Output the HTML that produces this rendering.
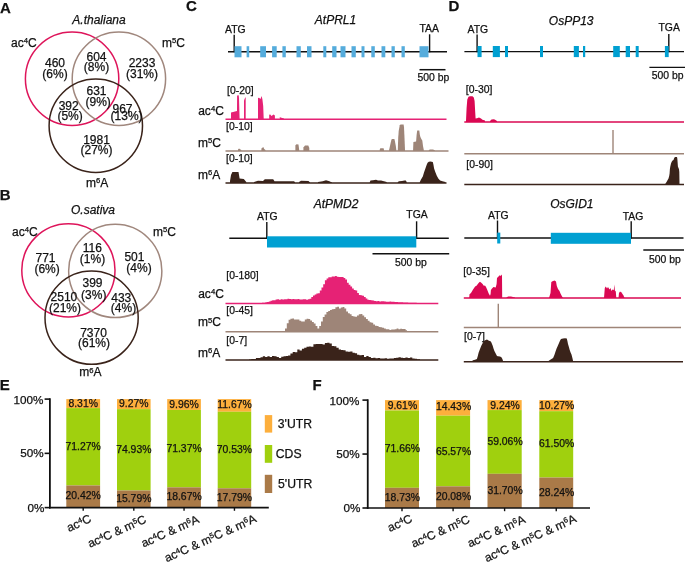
<!DOCTYPE html>
<html lang="en">
<head>
<meta charset="utf-8">
<title>Figure</title>
<style>
html,body{margin:0;padding:0;background:#fff;}
body{width:685px;height:562px;overflow:hidden;}
svg{display:block;}
text{font-family:"Liberation Sans",Arial,Helvetica,sans-serif;fill:#111;stroke:#111;stroke-width:0.25px;}
.b{font-weight:bold;}
.i{font-style:italic;}
</style>
</head>
<body>
<svg width="685" height="562" viewBox="0 0 685 562">
<rect x="0" y="0" width="685" height="562" fill="#fff"/>
<text x="0" y="12.8" font-size="15" text-anchor="start" class="b">A</text>
<text x="-0.2" y="199.8" font-size="15" text-anchor="start" class="b">B</text>
<text x="186" y="11.2" font-size="15" text-anchor="start" class="b">C</text>
<text x="448.5" y="11.1" font-size="15" text-anchor="start" class="b">D</text>
<text x="-0.2" y="389.9" font-size="15" text-anchor="start" class="b">E</text>
<text x="312.6" y="390" font-size="15" text-anchor="start" class="b">F</text>
<circle cx="72.1" cy="78.75" r="46.7" fill="none" stroke="#DE145A" stroke-width="1.5"/>
<circle cx="118.9" cy="78.8" r="46.7" fill="none" stroke="#A0877D" stroke-width="1.5"/>
<circle cx="95.8" cy="125.8" r="46.7" fill="none" stroke="#3A231A" stroke-width="1.5"/>
<text x="99" y="24.3" font-size="12" text-anchor="middle" class="i">A.thaliana</text>
<text x="11" y="47" font-size="12" text-anchor="start">ac<tspan dy="-3.6" font-size="7.68">4</tspan><tspan dy="3.6">C</tspan></text>
<text x="162" y="47" font-size="12" text-anchor="start">m<tspan dy="-3.6" font-size="7.68">5</tspan><tspan dy="3.6">C</tspan></text>
<text x="86" y="186.8" font-size="12" text-anchor="start">m<tspan dy="-3.6" font-size="7.68">6</tspan><tspan dy="3.6">A</tspan></text>
<text x="55" y="67" font-size="12" text-anchor="middle">460</text>
<text x="55" y="78" font-size="12" text-anchor="middle">(6%)</text>
<text x="96.5" y="60.5" font-size="12" text-anchor="middle">604</text>
<text x="96.5" y="71" font-size="12" text-anchor="middle">(8%)</text>
<text x="142" y="67" font-size="12" text-anchor="middle">2233</text>
<text x="142" y="78" font-size="12" text-anchor="middle">(31%)</text>
<text x="96.5" y="95" font-size="12" text-anchor="middle">631</text>
<text x="98.2" y="105.5" font-size="12" text-anchor="middle">(9%)</text>
<text x="68.7" y="110.2" font-size="12" text-anchor="middle">392</text>
<text x="70.1" y="120.2" font-size="12" text-anchor="middle">(5%)</text>
<text x="122.5" y="113" font-size="12" text-anchor="middle">967</text>
<text x="126.6" y="120.2" font-size="12" text-anchor="middle">(13%)</text>
<text x="96.5" y="143.7" font-size="12" text-anchor="middle">1981</text>
<text x="96.5" y="154.2" font-size="12" text-anchor="middle">(27%)</text>
<circle cx="68.4" cy="270.3" r="46.6" fill="none" stroke="#DE145A" stroke-width="1.5"/>
<circle cx="115.25" cy="270.9" r="46.6" fill="none" stroke="#A0877D" stroke-width="1.5"/>
<circle cx="91.6" cy="317.7" r="46.6" fill="none" stroke="#3A231A" stroke-width="1.5"/>
<text x="93" y="213.8" font-size="12" text-anchor="middle" class="i">O.sativa</text>
<text x="12" y="235.5" font-size="12" text-anchor="start">ac<tspan dy="-3.6" font-size="7.68">4</tspan><tspan dy="3.6">C</tspan></text>
<text x="153" y="235.5" font-size="12" text-anchor="start">m<tspan dy="-3.6" font-size="7.68">5</tspan><tspan dy="3.6">C</tspan></text>
<text x="79.3" y="376.3" font-size="12" text-anchor="start">m<tspan dy="-3.6" font-size="7.68">6</tspan><tspan dy="3.6">A</tspan></text>
<text x="45.5" y="261.8" font-size="12" text-anchor="middle">771</text>
<text x="47.1" y="272.8" font-size="12" text-anchor="middle">(6%)</text>
<text x="92.25" y="251.5" font-size="12" text-anchor="middle">116</text>
<text x="92.5" y="262.7" font-size="12" text-anchor="middle">(1%)</text>
<text x="134.4" y="260.7" font-size="12" text-anchor="middle">501</text>
<text x="139" y="271.6" font-size="12" text-anchor="middle">(4%)</text>
<text x="92.5" y="286.5" font-size="12" text-anchor="middle">399</text>
<text x="93.75" y="298.7" font-size="12" text-anchor="middle">(3%)</text>
<text x="63.9" y="301" font-size="12" text-anchor="middle">2510</text>
<text x="65" y="311.5" font-size="12" text-anchor="middle">(21%)</text>
<text x="121.25" y="301.5" font-size="12" text-anchor="middle">433</text>
<text x="123.5" y="311.5" font-size="12" text-anchor="middle">(4%)</text>
<text x="93.5" y="336.5" font-size="12" text-anchor="middle">7370</text>
<text x="94" y="347.3" font-size="12" text-anchor="middle">(61%)</text>
<text x="335.5" y="24.3" font-size="12" text-anchor="middle" class="i">AtPRL1</text>
<line x1="228" y1="51.7" x2="447" y2="51.7" stroke="#111" stroke-width="1.4"/>
<line x1="234.2" y1="34.8" x2="234.2" y2="52.3" stroke="#111" stroke-width="1.4"/>
<line x1="429.6" y1="34.3" x2="429.6" y2="52.3" stroke="#111" stroke-width="1.4"/>
<text x="225" y="33" font-size="10.4" text-anchor="start">ATG</text>
<text x="419.5" y="31.5" font-size="10.4" text-anchor="start">TAA</text>
<rect x="234.5" y="46.2" width="7" height="11.1" fill="#55ACDC"/>
<rect x="246.6" y="46.2" width="2.6" height="11.1" fill="#55ACDC"/>
<rect x="260.2" y="46.2" width="5.8" height="11.1" fill="#55ACDC"/>
<rect x="272.1" y="46.2" width="4.6" height="11.1" fill="#55ACDC"/>
<rect x="282.4" y="46.2" width="3.4" height="11.1" fill="#55ACDC"/>
<rect x="296.5" y="46.2" width="4.3" height="11.1" fill="#55ACDC"/>
<rect x="307" y="46.2" width="4.5" height="11.1" fill="#55ACDC"/>
<rect x="323.3" y="46.2" width="3" height="11.1" fill="#55ACDC"/>
<rect x="332.2" y="46.2" width="4.3" height="11.1" fill="#55ACDC"/>
<rect x="340.5" y="46.2" width="5" height="11.1" fill="#55ACDC"/>
<rect x="351.5" y="46.2" width="4.3" height="11.1" fill="#55ACDC"/>
<rect x="361.5" y="46.2" width="3" height="11.1" fill="#55ACDC"/>
<rect x="371.3" y="46.2" width="3.5" height="11.1" fill="#55ACDC"/>
<rect x="381.5" y="46.2" width="3.8" height="11.1" fill="#55ACDC"/>
<rect x="391.5" y="46.2" width="3.3" height="11.1" fill="#55ACDC"/>
<rect x="401.5" y="46.2" width="3.3" height="11.1" fill="#55ACDC"/>
<rect x="419.5" y="46.2" width="9" height="11.1" fill="#55ACDC"/>
<line x1="419.5" y1="69.7" x2="445.5" y2="69.7" stroke="#111" stroke-width="1.5"/>
<text x="417.5" y="81.3" font-size="10.4" text-anchor="start">500 bp</text>
<text x="227" y="94" font-size="10.4" text-anchor="start">[0-20]</text>
<text x="226" y="130.3" font-size="10.4" text-anchor="start">[0-10]</text>
<text x="226" y="162" font-size="10.4" text-anchor="start">[0-10]</text>
<text x="198.2" y="115" font-size="12" text-anchor="start">ac<tspan dy="-3.6" font-size="7.68">4</tspan><tspan dy="3.6">C</tspan></text>
<text x="198" y="146.7" font-size="12" text-anchor="start">m<tspan dy="-3.6" font-size="7.68">5</tspan><tspan dy="3.6">C</tspan></text>
<text x="198" y="179" font-size="12" text-anchor="start">m<tspan dy="-3.6" font-size="7.68">6</tspan><tspan dy="3.6">A</tspan></text>
<line x1="225.5" y1="119.2" x2="446.5" y2="119.2" stroke="#E62275" stroke-width="1.5"/>
<path d="M231 119.2L231 112.5L237 110.9L237.1 95.5L238.7 95.3L239 98L239.6 119L239.6 119.2Z" fill="#E62275"/>
<path d="M244 119.2L244 100.5L245.2 97.4L245.7 97.6L245.7 119.2Z" fill="#E62275"/>
<path d="M258 119.2L258 98L259 97.7L260.5 99L261.6 96.1L262.4 99.3L263.2 106L263.7 119L263.7 119.2Z" fill="#E62275"/>
<path d="M269.2 119.2L269.2 115L270 114.3L271.5 116L273.5 114.5L274.9 115.5L274.9 119.2Z" fill="#E62275"/>
<path d="M279.8 119.2L279.8 117L280.6 117.6L284 118.5L284 119.2Z" fill="#E62275"/>
<line x1="225.5" y1="151.1" x2="448.5" y2="151.1" stroke="#9E8578" stroke-width="1.5"/>
<path d="M238 151.1L238 149.5L239 148.5L241.3 150L241.3 151.1Z" fill="#9E8578"/>
<path d="M261.4 151.1L261.4 148.5L263.3 146.9L264.2 149L265.5 150L265.5 151.1Z" fill="#9E8578"/>
<path d="M295.4 151.1L295.4 145.2L296.5 144.3L298.5 144.5L299.2 150L299.2 151.1Z" fill="#9E8578"/>
<path d="M303.4 151.1L303.4 147.5L305 145.6L308.3 145.4L309.3 148L309.3 151.1Z" fill="#9E8578"/>
<path d="M379.8 151.1L379.8 149.5L380.3 148.2L383.6 148.2L384 150L384 151.1Z" fill="#9E8578"/>
<path d="M389.1 151.1L389.1 150L390.2 145L391.4 139.8L392 138.9L394.4 138.9L395 141.5L395.8 146L396.3 150L396.3 151.1Z" fill="#9E8578"/>
<path d="M397.8 151.1L397.8 150L398.2 138L398.7 131L399.8 125.2L400.5 124.6L403.6 124.6L404 127L404.5 138L405 150L405 151.1Z" fill="#9E8578"/>
<path d="M413.1 151.1L413.1 150L413.4 142L416.1 141.6L416.6 135L417.2 130.5L419.3 130.5L419.8 134.5L420.4 137L421.5 139.3L422.3 140.5L423 146L423.8 150L423.8 151.1Z" fill="#9E8578"/>
<path d="M428.8 151.1L428.8 150L430 149.4L433 149.5L434.8 150.3L434.8 151.1Z" fill="#9E8578"/>
<line x1="225.5" y1="182.9" x2="446.5" y2="182.9" stroke="#3A231A" stroke-width="1.5"/>
<path d="M230 182.9L230 181L231 175L232.4 172L238.5 172L239.6 178.5L243.8 179L246.3 182L246.3 182.9Z" fill="#3A231A"/>
<path d="M254 182.9L254 182L258 180.8L263 181L264.8 179.2L273.2 179.3L274.5 181.3L284 181.2L285.8 181.3L294.2 181.2L295 182.5L295 182.9Z" fill="#3A231A"/>
<path d="M299 182.9L299 182L301 180.8L308.5 181L310 182.5L310 182.9Z" fill="#3A231A"/>
<path d="M318 182.9L318 182L322.7 181.2L326 180.2L329.4 181.3L332 182.5L332 182.9Z" fill="#3A231A"/>
<path d="M369.8 182.9L369.8 182L370.5 180.6L373 180.2L376 179.7L378 180.4L381 180.6L384 181.2L386.7 182L386.7 182.9Z" fill="#3A231A"/>
<path d="M397.8 182.9L397.8 182L399 181.3L402 181L404.5 180.4L405.8 180.5L406.7 182L406.7 182.9Z" fill="#3A231A"/>
<path d="M419.8 182.9L419.8 182L421 179.5L422.8 176.4L424 172.5L425.4 168.4L426.8 164.4L427.6 162.8L428.8 161.8L430.5 161.4L432.8 161.9L433.4 164.5L434.1 168.4L435.3 172L436.8 175.7L438.3 178.5L440.1 180.4L442.5 181.2L445.4 182L445.4 182.9Z" fill="#3A231A"/>
<text x="336" y="207.5" font-size="12" text-anchor="middle" class="i">AtPMD2</text>
<line x1="229.3" y1="238.2" x2="448.8" y2="238.2" stroke="#111" stroke-width="1.4"/>
<line x1="266.8" y1="222" x2="266.8" y2="238.8" stroke="#111" stroke-width="1.4"/>
<line x1="416.6" y1="221.3" x2="416.6" y2="238.8" stroke="#111" stroke-width="1.4"/>
<rect x="267" y="236.3" width="149.3" height="11.2" fill="#00A0D2"/>
<text x="257" y="220.3" font-size="10.4" text-anchor="start">ATG</text>
<text x="406.3" y="218" font-size="10.4" text-anchor="start">TGA</text>
<line x1="372.5" y1="253.8" x2="449.2" y2="253.8" stroke="#111" stroke-width="1.4"/>
<text x="395" y="265.5" font-size="10.4" text-anchor="start">500 bp</text>
<text x="226.3" y="278.8" font-size="10.4" text-anchor="start">[0-180]</text>
<text x="226.3" y="314.3" font-size="10.4" text-anchor="start">[0-45]</text>
<text x="226.3" y="343.8" font-size="10.4" text-anchor="start">[0-7]</text>
<text x="198.2" y="297.7" font-size="12" text-anchor="start">ac<tspan dy="-3.6" font-size="7.68">4</tspan><tspan dy="3.6">C</tspan></text>
<text x="198" y="326.3" font-size="12" text-anchor="start">m<tspan dy="-3.6" font-size="7.68">5</tspan><tspan dy="3.6">C</tspan></text>
<text x="198" y="356.8" font-size="12" text-anchor="start">m<tspan dy="-3.6" font-size="7.68">6</tspan><tspan dy="3.6">A</tspan></text>
<line x1="225.5" y1="303.4" x2="438.3" y2="303.4" stroke="#E62275" stroke-width="1.5"/>
<path d="M262 303.4L262 302.85L263.7 302.85L263.7 302.64L265.4 302.64L265.4 302.36L267.1 302.36L267.1 302.09L268.8 302.09L268.8 301.58L270.5 301.58L270.5 300.79L272.2 300.79L272.2 300.27L273.9 300.27L273.9 300.35L275.6 300.35L275.6 299.6L277.3 299.6L277.3 299.31L279 299.31L279 299.7L280.7 299.7L280.7 299.32L282.4 299.32L282.4 299.47L284.1 299.47L284.1 299.19L285.8 299.19L285.8 299.22L287.5 299.22L287.5 298.86L289.2 298.86L289.2 299.08L290.9 299.08L290.9 299.27L292.6 299.27L292.6 299.12L294.3 299.12L294.3 299.3L296 299.3L296 299.31L297.7 299.31L297.7 298.99L299.4 298.99L299.4 299.47L301.1 299.47L301.1 299.45L302.8 299.45L302.8 299.36L304.5 299.36L304.5 299.29L306.2 299.29L306.2 299.66L307.9 299.66L307.9 299.17L309.6 299.17L309.6 298.68L311.3 298.68L311.3 297.08L313 297.08L313 295.56L314.7 295.56L314.7 294.55L316.4 294.55L316.4 293.52L318.1 293.52L318.1 293.2L319.8 293.2L319.8 290.49L321.5 290.49L321.5 287.56L323.2 287.56L323.2 284.13L324.9 284.13L324.9 280.26L326.6 280.26L326.6 278.57L328.3 278.57L328.3 277.28L330 277.28L330 277.16L331.7 277.16L331.7 276.42L333.4 276.42L333.4 276.41L335.1 276.41L335.1 276.08L336.8 276.08L336.8 276.64L338.5 276.64L338.5 276.93L340.2 276.93L340.2 276.91L341.9 276.91L341.9 277.05L343.6 277.05L343.6 278.02L345.3 278.02L345.3 279.54L347 279.54L347 282.81L348.7 282.81L348.7 284.81L350.4 284.81L350.4 286.51L352.1 286.51L352.1 288.57L353.8 288.57L353.8 289.93L355.5 289.93L355.5 290.47L357.2 290.47L357.2 293.05L358.9 293.05L358.9 294.9L360.6 294.9L360.6 295.15L362.3 295.15L362.3 295.81L364 295.81L364 297.03L365.7 297.03L365.7 298.38L367.4 298.38L367.4 299.87L369.1 299.87L369.1 300.09L370.8 300.09L370.8 300.29L372.5 300.29L372.5 300.39L374.2 300.39L374.2 300.99L375.9 300.99L375.9 301.21L377.6 301.21L377.6 300.96L379.3 300.96L379.3 301.43L381 301.43L381 301.34L382.7 301.34L382.7 301.31L384.4 301.31L384.4 301.44L386.1 301.44L386.1 301.69L387.8 301.69L387.8 301.79L389.5 301.79L389.5 301.58L391.2 301.58L391.2 301.84L392.9 301.84L392.9 301.76L394.6 301.76L394.6 302.05L396.3 302.05L396.3 302.03L398 302.03L398 302.26L399.7 302.26L399.7 302.37L401.4 302.37L401.4 302.35L403.1 302.35L403.1 302.54L404.8 302.54L404.8 302.49L406.5 302.49L406.5 302.51L408.2 302.51L408.2 302.65L409.9 302.65L409.9 302.63L411.6 302.63L411.6 302.71L413.3 302.71L413.3 302.79L415 302.79L415 302.87L416.7 302.87L416.7 302.89L418.4 302.89L418.4 302.93L420 302.93L420 303.4Z" fill="#E62275"/>
<line x1="225.5" y1="331.7" x2="438.3" y2="331.7" stroke="#9E8578" stroke-width="1.5"/>
<path d="M285 331.7L285 328.46L286.8 328.46L286.8 323.32L288.6 323.32L288.6 319.77L290.4 319.77L290.4 318.82L292.2 318.82L292.2 318.49L294 318.49L294 319.56L295.8 319.56L295.8 319.41L297.6 319.41L297.6 319.39L299.4 319.39L299.4 320.84L301.2 320.84L301.2 321.51L303 321.51L303 321.38L304.8 321.38L304.8 319.38L306.6 319.38L306.6 318.87L308.4 318.87L308.4 318.91L310.2 318.91L310.2 320.62L312 320.62L312 322.09L313.8 322.09L313.8 323.5L315.6 323.5L315.6 325.92L317.4 325.92L317.4 328.42L319.2 328.42L319.2 326L321 326L321 321.38L322.8 321.38L322.8 317.03L324.6 317.03L324.6 314.6L326.4 314.6L326.4 312.09L328.2 312.09L328.2 311.07L330 311.07L330 310.03L331.8 310.03L331.8 309.2L333.6 309.2L333.6 309.08L335.4 309.08L335.4 307.35L337.2 307.35L337.2 306.83L339 306.83L339 308.39L340.8 308.39L340.8 307.49L342.6 307.49L342.6 307.06L344.4 307.06L344.4 308.52L346.2 308.52L346.2 311.62L348 311.62L348 313.24L349.8 313.24L349.8 314.2L351.6 314.2L351.6 316.06L353.4 316.06L353.4 316.39L355.2 316.39L355.2 316.85L357 316.85L357 315.59L358.8 315.59L358.8 314.18L360.6 314.18L360.6 313.88L362.4 313.88L362.4 315.5L364.2 315.5L364.2 317.28L366 317.28L366 319.01L367.8 319.01L367.8 320.74L369.6 320.74L369.6 322.34L371.4 322.34L371.4 322.7L373.2 322.7L373.2 324.58L375 324.58L375 325.77L376.8 325.77L376.8 326.11L378.6 326.11L378.6 326.95L380.4 326.95L380.4 327.25L382.2 327.25L382.2 327.7L384 327.7L384 328.45L385.8 328.45L385.8 329.33L387.6 329.33L387.6 329.28L389.4 329.28L389.4 329.97L391.2 329.97L391.2 329.51L393 329.51L393 329.59L394.8 329.59L394.8 329.33L396.6 329.33L396.6 328.55L398.4 328.55L398.4 329.13L400.2 329.13L400.2 328.71L402 328.71L402 329.07L403.8 329.07L403.8 329.1L405.6 329.1L405.6 330.31L407 330.31L407 331.7Z" fill="#9E8578"/>
<line x1="225.5" y1="360.1" x2="438.3" y2="360.1" stroke="#3A231A" stroke-width="1.5"/>
<path d="M249 360.1L249 359.48L251.3 359.48L251.3 359.03L253.6 359.03L253.6 358.95L255.9 358.95L255.9 357.89L258.2 357.89L258.2 357.89L260.5 357.89L260.5 357.19L262.8 357.19L262.8 356.21L265.1 356.21L265.1 357.09L267.4 357.09L267.4 356.33L269.7 356.33L269.7 356.97L272 356.97L272 356.03L274.3 356.03L274.3 356.17L276.6 356.17L276.6 357.11L278.9 357.11L278.9 358.06L281.2 358.06L281.2 356.74L283.5 356.74L283.5 356.29L285.8 356.29L285.8 355.95L288.1 355.95L288.1 355.38L290.4 355.38L290.4 353.56L292.7 353.56L292.7 352.09L295 352.09L295 352.13L297.3 352.13L297.3 349.59L299.6 349.59L299.6 350.41L301.9 350.41L301.9 348.8L304.2 348.8L304.2 347.68L306.5 347.68L306.5 346.85L308.8 346.85L308.8 346.62L311.1 346.62L311.1 346.64L313.4 346.64L313.4 344.36L315.7 344.36L315.7 343.96L318 343.96L318 344.08L320.3 344.08L320.3 344.02L322.6 344.02L322.6 344.56L324.9 344.56L324.9 342.89L327.2 342.89L327.2 342.69L329.5 342.69L329.5 343.6L331.8 343.6L331.8 345.99L334.1 345.99L334.1 346.32L336.4 346.32L336.4 347.66L338.7 347.66L338.7 349.57L341 349.57L341 349.9L343.3 349.9L343.3 350.13L345.6 350.13L345.6 351.48L347.9 351.48L347.9 351.82L350.2 351.82L350.2 351.58L352.5 351.58L352.5 352.75L354.8 352.75L354.8 353.23L357.1 353.23L357.1 354.72L359.4 354.72L359.4 355.26L361.7 355.26L361.7 355.06L364 355.06L364 356.9L366.3 356.9L366.3 355.9L368.6 355.9L368.6 356.99L370.9 356.99L370.9 357.99L373.2 357.99L373.2 357.65L375.5 357.65L375.5 358.29L377.8 358.29L377.8 357.98L380.1 357.98L380.1 358.59L382.4 358.59L382.4 358.57L384.7 358.57L384.7 358.36L387 358.36L387 358.87L389.3 358.87L389.3 358.46L391.6 358.46L391.6 358.46L393.9 358.46L393.9 357.99L396.2 357.99L396.2 357.71L398.5 357.71L398.5 357.32L400.8 357.32L400.8 357.79L403.1 357.79L403.1 358.11L405.4 358.11L405.4 357.54L407.7 357.54L407.7 358L410 358L410 357.4L412.3 357.4L412.3 358.39L414.6 358.39L414.6 358.63L416.9 358.63L416.9 359.24L419.2 359.24L419.2 359.32L420 359.32L420 360.1Z" fill="#3A231A"/>
<text x="571.2" y="24.6" font-size="12" text-anchor="middle" class="i">OsPP13</text>
<line x1="464.4" y1="51.6" x2="684" y2="51.6" stroke="#111" stroke-width="1.4"/>
<line x1="477.1" y1="34.6" x2="477.1" y2="52.3" stroke="#111" stroke-width="1.4"/>
<line x1="668.8" y1="33.9" x2="668.8" y2="52.3" stroke="#111" stroke-width="1.4"/>
<text x="467.5" y="33" font-size="10.4" text-anchor="start">ATG</text>
<text x="658.5" y="30.8" font-size="10.4" text-anchor="start">TGA</text>
<rect x="477.5" y="46" width="4.1" height="11.1" fill="#00A0D2"/>
<rect x="492.8" y="46" width="7.1" height="11.1" fill="#00A0D2"/>
<rect x="505" y="46" width="3" height="11.1" fill="#00A0D2"/>
<rect x="540" y="46" width="3" height="11.1" fill="#00A0D2"/>
<rect x="573.8" y="46" width="5.1" height="11.1" fill="#00A0D2"/>
<rect x="583" y="46" width="2.2" height="11.1" fill="#00A0D2"/>
<rect x="613.2" y="46" width="6.6" height="11.1" fill="#00A0D2"/>
<rect x="625.7" y="46" width="4.3" height="11.1" fill="#00A0D2"/>
<rect x="635.7" y="46" width="3" height="11.1" fill="#00A0D2"/>
<rect x="664.9" y="46" width="3.8" height="11.1" fill="#00A0D2"/>
<line x1="649.4" y1="67.4" x2="685" y2="67.4" stroke="#111" stroke-width="1.4"/>
<text x="651.8" y="79.4" font-size="10.4" text-anchor="start">500 bp</text>
<text x="465.8" y="93" font-size="10.4" text-anchor="start">[0-30]</text>
<text x="466.3" y="167.5" font-size="10.4" text-anchor="start">[0-90]</text>
<line x1="464.3" y1="121.9" x2="684" y2="121.9" stroke="#DA0852" stroke-width="1.5"/>
<path d="M466 121.9L466 121L466.6 108L467.3 99.5L468.5 96.8L470 96.2L472.5 96.3L473.8 97.5L474.6 101L475.2 112L475.6 118.5L477 118.3L479 117.6L481 118.4L482.5 119.8L485 120.5L485 121.9Z" fill="#DA0852"/>
<path d="M490 121.9L490 121L491.5 119.6L494 119.2L495.5 120L497 121L497 121.9Z" fill="#DA0852"/>
<line x1="464.3" y1="153.8" x2="684" y2="153.8" stroke="#9E8578" stroke-width="1.5"/>
<line x1="613" y1="130" x2="613" y2="153.8" stroke="#9E8578" stroke-width="1.4"/>
<line x1="464.3" y1="184.6" x2="684" y2="184.6" stroke="#3A231A" stroke-width="1.5"/>
<path d="M664.9 184.6L664.9 184.5L666.5 182L668.5 178.5L669.2 176L669.6 173.5L669.9 169L670.3 166.4L671 163.5L671.7 161.7L672.6 160.6L673.5 160L674 158.5L674.5 157.5L675.2 157L677 157L677.3 158.5L677.5 160.7L677.9 166.4L678.5 168L679 169.2L679.3 172L679.5 184.5L679.5 184.6Z" fill="#3A231A"/>
<text x="571.8" y="207.5" font-size="12" text-anchor="middle" class="i">OsGID1</text>
<line x1="464.3" y1="238" x2="683.5" y2="238" stroke="#111" stroke-width="1.4"/>
<line x1="497.5" y1="220.5" x2="497.5" y2="238.6" stroke="#111" stroke-width="1.4"/>
<line x1="631.2" y1="221.3" x2="631.2" y2="238.6" stroke="#111" stroke-width="1.4"/>
<rect x="497.2" y="232.6" width="3.1" height="10.9" fill="#00A0D2"/>
<rect x="550.8" y="232.8" width="80.2" height="11" fill="#00A0D2"/>
<text x="488" y="218.5" font-size="10.4" text-anchor="start">ATG</text>
<text x="622.8" y="219.5" font-size="10.4" text-anchor="start">TAG</text>
<line x1="643.3" y1="250" x2="684" y2="250" stroke="#111" stroke-width="1.4"/>
<text x="649" y="263.3" font-size="10.4" text-anchor="start">500 bp</text>
<text x="463.3" y="275" font-size="10.4" text-anchor="start">[0-35]</text>
<text x="464" y="339.5" font-size="10.4" text-anchor="start">[0-7]</text>
<line x1="463.8" y1="298.1" x2="681" y2="298.1" stroke="#DA0852" stroke-width="1.5"/>
<path d="M469.2 298.1L469.2 298L469.5 294.3L471 293L472.9 289.7L475.1 286.6L476.5 285.8L478.2 283.6L479.3 282.3L480 281.8L481 282.5L482.6 284L483.5 285.5L485.2 285.8L486 287L487 289.3L488.7 293.6L490 295.8L490.6 294L490.9 290.1L492 288.5L493.5 287.1L495.7 287.5L496.6 284L497 277.9L498.5 276.5L499.7 275.3L500.5 276L501.6 274.4L502 276L502.2 298L502.2 298.1Z" fill="#DA0852"/>
<path d="M506 298.1L506 298L508 296.6L511 296.4L513 297L515 297.5L515 298.1Z" fill="#DA0852"/>
<path d="M549 298.1L549 298L550.5 293L551.3 282L552.5 281.2L554.5 280.5L556 281.5L556.8 286L558 289L559.5 291L560.5 293.5L561.8 296L563 298L563 298.1Z" fill="#DA0852"/>
<path d="M604 298.1L604 298L604.8 288L605.8 286.5L607 288.5L608 287L609.5 289.5L610.5 288L611.5 291L612.5 289.5L613.8 290L614.3 284.5L614.9 290.5L615.8 291.5L616.3 298L616.3 298.1Z" fill="#DA0852"/>
<path d="M618.5 298.1L618.5 298L619 293L620 291.5L621.5 292.5L622.5 294L623.5 295.5L624.5 298L624.5 298.1Z" fill="#DA0852"/>
<line x1="463.8" y1="327.5" x2="681" y2="327.5" stroke="#9E8578" stroke-width="1.5"/>
<line x1="498.3" y1="303.8" x2="498.3" y2="327.5" stroke="#9E8578" stroke-width="1.4"/>
<line x1="463.8" y1="361.7" x2="683" y2="361.7" stroke="#3A231A" stroke-width="1.5"/>
<path d="M471.6 361.7L471.6 361.5L473 360.3L475 359.7L476.9 358.9L477.8 356L478.6 352.8L480 349L481.3 345.8L482.6 343.2L483.9 340.9L485.7 340L487 339.6L488.5 340.6L490.9 341.4L491.8 343.5L492.7 345.8L493.5 348.5L494.4 351L495.7 353.5L497 355.9L497.9 356.3L500 356.4L501.4 357.2L502.4 359L503.2 361.5L503.2 361.7Z" fill="#3A231A"/>
<path d="M547.8 361.7L547.8 361.5L549.5 360.2L551.5 359L553.1 358L554.4 355L555.7 351L556.6 348.5L557.5 346.6L558.8 343.5L560.1 340.5L561 338.9L563 338.5L565 338.3L566.8 338.6L567.4 341L568 344L568.9 347L569.7 350.1L570.6 352.5L571.5 354.5L572.4 358L573.2 361.5L573.2 361.7Z" fill="#3A231A"/>
<rect x="66.3" y="399.1" width="33.8" height="9.02" fill="#FDAF3C"/>
<rect x="66.3" y="408.12" width="33.8" height="77.33" fill="#A0D00E"/>
<rect x="66.3" y="485.44" width="33.8" height="22.16" fill="#AA7A48"/>
<rect x="117" y="399.1" width="33.6" height="10.06" fill="#FDAF3C"/>
<rect x="117" y="409.16" width="33.6" height="81.31" fill="#A0D00E"/>
<rect x="117" y="490.47" width="33.6" height="17.13" fill="#AA7A48"/>
<rect x="167.2" y="399.1" width="33.7" height="10.81" fill="#FDAF3C"/>
<rect x="167.2" y="409.91" width="33.7" height="77.44" fill="#A0D00E"/>
<rect x="167.2" y="487.34" width="33.7" height="20.26" fill="#AA7A48"/>
<rect x="217.7" y="399.1" width="33.5" height="12.66" fill="#FDAF3C"/>
<rect x="217.7" y="411.76" width="33.5" height="76.54" fill="#A0D00E"/>
<rect x="217.7" y="488.3" width="33.5" height="19.3" fill="#AA7A48"/>
<line x1="49.9" y1="398.3" x2="49.9" y2="508.45" stroke="#111" stroke-width="1.8"/>
<line x1="49" y1="507.6" x2="268.8" y2="507.6" stroke="#111" stroke-width="1.7"/>
<line x1="44.6" y1="399.1" x2="49.9" y2="399.1" stroke="#111" stroke-width="1.6"/>
<line x1="44.6" y1="453.35" x2="49.9" y2="453.35" stroke="#111" stroke-width="1.6"/>
<line x1="44.6" y1="507.6" x2="49.9" y2="507.6" stroke="#111" stroke-width="1.6"/>
<line x1="83.2" y1="507.6" x2="83.2" y2="510.8" stroke="#111" stroke-width="1.4"/>
<line x1="133.8" y1="507.6" x2="133.8" y2="510.8" stroke="#111" stroke-width="1.4"/>
<line x1="184.05" y1="507.6" x2="184.05" y2="510.8" stroke="#111" stroke-width="1.4"/>
<line x1="234.45" y1="507.6" x2="234.45" y2="510.8" stroke="#111" stroke-width="1.4"/>
<text x="43.3" y="403.6" font-size="11.7" text-anchor="end">100%</text>
<text x="43.6" y="456.85" font-size="11.7" text-anchor="end">50%</text>
<text x="44.4" y="511.8" font-size="11.7" text-anchor="end">0%</text>
<text x="83.2" y="406.8" font-size="10.4" text-anchor="middle">8.31%</text>
<text x="83.2" y="450" font-size="10.4" text-anchor="middle">71.27%</text>
<text x="83.2" y="498.8" font-size="10.4" text-anchor="middle">20.42%</text>
<text x="133.8" y="406.8" font-size="10.4" text-anchor="middle">9.27%</text>
<text x="133.8" y="453" font-size="10.4" text-anchor="middle">74.93%</text>
<text x="133.8" y="501.8" font-size="10.4" text-anchor="middle">15.79%</text>
<text x="184.05" y="407.5" font-size="10.4" text-anchor="middle">9.96%</text>
<text x="184.05" y="451.8" font-size="10.4" text-anchor="middle">71.37%</text>
<text x="184.05" y="500" font-size="10.4" text-anchor="middle">18.67%</text>
<text x="234.45" y="408.3" font-size="10.4" text-anchor="middle">11.67%</text>
<text x="234.45" y="453" font-size="10.4" text-anchor="middle">70.53%</text>
<text x="234.45" y="500.8" font-size="10.4" text-anchor="middle">17.79%</text>
<rect x="264.8" y="415.1" width="7.4" height="17.5" fill="#FDAF3C"/>
<rect x="264.8" y="445" width="7.4" height="17.8" fill="#A0D00E"/>
<rect x="264.8" y="474.8" width="7.4" height="18.2" fill="#AA7A48"/>
<text x="277.8" y="428" font-size="12.2" text-anchor="start">3'UTR</text>
<text x="275.8" y="457.85" font-size="12.2" text-anchor="start">CDS</text>
<text x="278.1" y="487.9" font-size="12.2" text-anchor="start">5'UTR</text>
<rect x="385" y="400.1" width="34" height="10.37" fill="#FDAF3C"/>
<rect x="385" y="410.47" width="34" height="77.32" fill="#A0D00E"/>
<rect x="385" y="487.79" width="34" height="20.21" fill="#AA7A48"/>
<rect x="436.1" y="400.1" width="34" height="15.57" fill="#FDAF3C"/>
<rect x="436.1" y="415.67" width="34" height="70.66" fill="#A0D00E"/>
<rect x="436.1" y="486.33" width="34" height="21.67" fill="#AA7A48"/>
<rect x="487.5" y="400.1" width="34.2" height="9.97" fill="#FDAF3C"/>
<rect x="487.5" y="410.07" width="34.2" height="63.73" fill="#A0D00E"/>
<rect x="487.5" y="473.8" width="34.2" height="34.2" fill="#AA7A48"/>
<rect x="539.3" y="400.1" width="33.9" height="11.08" fill="#FDAF3C"/>
<rect x="539.3" y="411.18" width="33.9" height="66.35" fill="#A0D00E"/>
<rect x="539.3" y="477.53" width="33.9" height="30.47" fill="#AA7A48"/>
<line x1="367.75" y1="399.3" x2="367.75" y2="508.85" stroke="#111" stroke-width="1.8"/>
<line x1="366.85" y1="508" x2="590" y2="508" stroke="#111" stroke-width="1.7"/>
<line x1="362.45" y1="400.1" x2="367.75" y2="400.1" stroke="#111" stroke-width="1.6"/>
<line x1="362.45" y1="454.05" x2="367.75" y2="454.05" stroke="#111" stroke-width="1.6"/>
<line x1="362.45" y1="508" x2="367.75" y2="508" stroke="#111" stroke-width="1.6"/>
<line x1="402" y1="508" x2="402" y2="511.2" stroke="#111" stroke-width="1.4"/>
<line x1="453.1" y1="508" x2="453.1" y2="511.2" stroke="#111" stroke-width="1.4"/>
<line x1="504.6" y1="508" x2="504.6" y2="511.2" stroke="#111" stroke-width="1.4"/>
<line x1="556.25" y1="508" x2="556.25" y2="511.2" stroke="#111" stroke-width="1.4"/>
<text x="359.3" y="404.6" font-size="11.7" text-anchor="end">100%</text>
<text x="359.6" y="457.55" font-size="11.7" text-anchor="end">50%</text>
<text x="360.4" y="512.2" font-size="11.7" text-anchor="end">0%</text>
<text x="402.4" y="409.2" font-size="10.4" text-anchor="middle">9.61%</text>
<text x="402.4" y="452.4" font-size="10.4" text-anchor="middle">71.66%</text>
<text x="402.4" y="500.8" font-size="10.4" text-anchor="middle">18.73%</text>
<text x="453.5" y="410.4" font-size="10.4" text-anchor="middle">14.43%</text>
<text x="453.5" y="454.7" font-size="10.4" text-anchor="middle">65.57%</text>
<text x="453.5" y="500.4" font-size="10.4" text-anchor="middle">20.08%</text>
<text x="505" y="408.7" font-size="10.4" text-anchor="middle">9.24%</text>
<text x="505" y="444.9" font-size="10.4" text-anchor="middle">59.06%</text>
<text x="505" y="494.2" font-size="10.4" text-anchor="middle">31.70%</text>
<text x="556.65" y="408.7" font-size="10.4" text-anchor="middle">10.27%</text>
<text x="556.65" y="447.3" font-size="10.4" text-anchor="middle">61.50%</text>
<text x="556.65" y="495.9" font-size="10.4" text-anchor="middle">28.24%</text>
<text transform="translate(92.2 521.6) rotate(-24.2)" font-size="11.9" text-anchor="end">ac<tspan dy="-3.54" font-size="7.55">4</tspan><tspan dy="3.54">C</tspan></text>
<text transform="translate(147 522.2) rotate(-24.2)" font-size="11.9" text-anchor="end">ac<tspan dy="-3.54" font-size="7.55">4</tspan><tspan dy="3.54">C</tspan> &amp; m<tspan dy="-3.54" font-size="7.55">5</tspan><tspan dy="3.54">C</tspan></text>
<text transform="translate(200 522.2) rotate(-24.2)" font-size="11.9" text-anchor="end">ac<tspan dy="-3.54" font-size="7.55">4</tspan><tspan dy="3.54">C</tspan> &amp; m<tspan dy="-3.54" font-size="7.55">6</tspan><tspan dy="3.54">A</tspan></text>
<text transform="translate(257.3 521.6) rotate(-24.2)" font-size="11.9" text-anchor="end">ac<tspan dy="-3.54" font-size="7.55">4</tspan><tspan dy="3.54">C</tspan> &amp; m<tspan dy="-3.54" font-size="7.55">5</tspan><tspan dy="3.54">C</tspan> &amp; m<tspan dy="-3.54" font-size="7.55">6</tspan><tspan dy="3.54">A</tspan></text>
<text transform="translate(413 521.6) rotate(-24.2)" font-size="11.9" text-anchor="end">ac<tspan dy="-3.54" font-size="7.55">4</tspan><tspan dy="3.54">C</tspan></text>
<text transform="translate(470.5 522.2) rotate(-24.2)" font-size="11.9" text-anchor="end">ac<tspan dy="-3.54" font-size="7.55">4</tspan><tspan dy="3.54">C</tspan> &amp; m<tspan dy="-3.54" font-size="7.55">5</tspan><tspan dy="3.54">C</tspan></text>
<text transform="translate(526.2 522.2) rotate(-24.2)" font-size="11.9" text-anchor="end">ac<tspan dy="-3.54" font-size="7.55">4</tspan><tspan dy="3.54">C</tspan> &amp; m<tspan dy="-3.54" font-size="7.55">6</tspan><tspan dy="3.54">A</tspan></text>
<text transform="translate(577.3 521.6) rotate(-24.2)" font-size="11.9" text-anchor="end">ac<tspan dy="-3.54" font-size="7.55">4</tspan><tspan dy="3.54">C</tspan> &amp; m<tspan dy="-3.54" font-size="7.55">5</tspan><tspan dy="3.54">C</tspan> &amp; m<tspan dy="-3.54" font-size="7.55">6</tspan><tspan dy="3.54">A</tspan></text>
</svg>
</body>
</html>
